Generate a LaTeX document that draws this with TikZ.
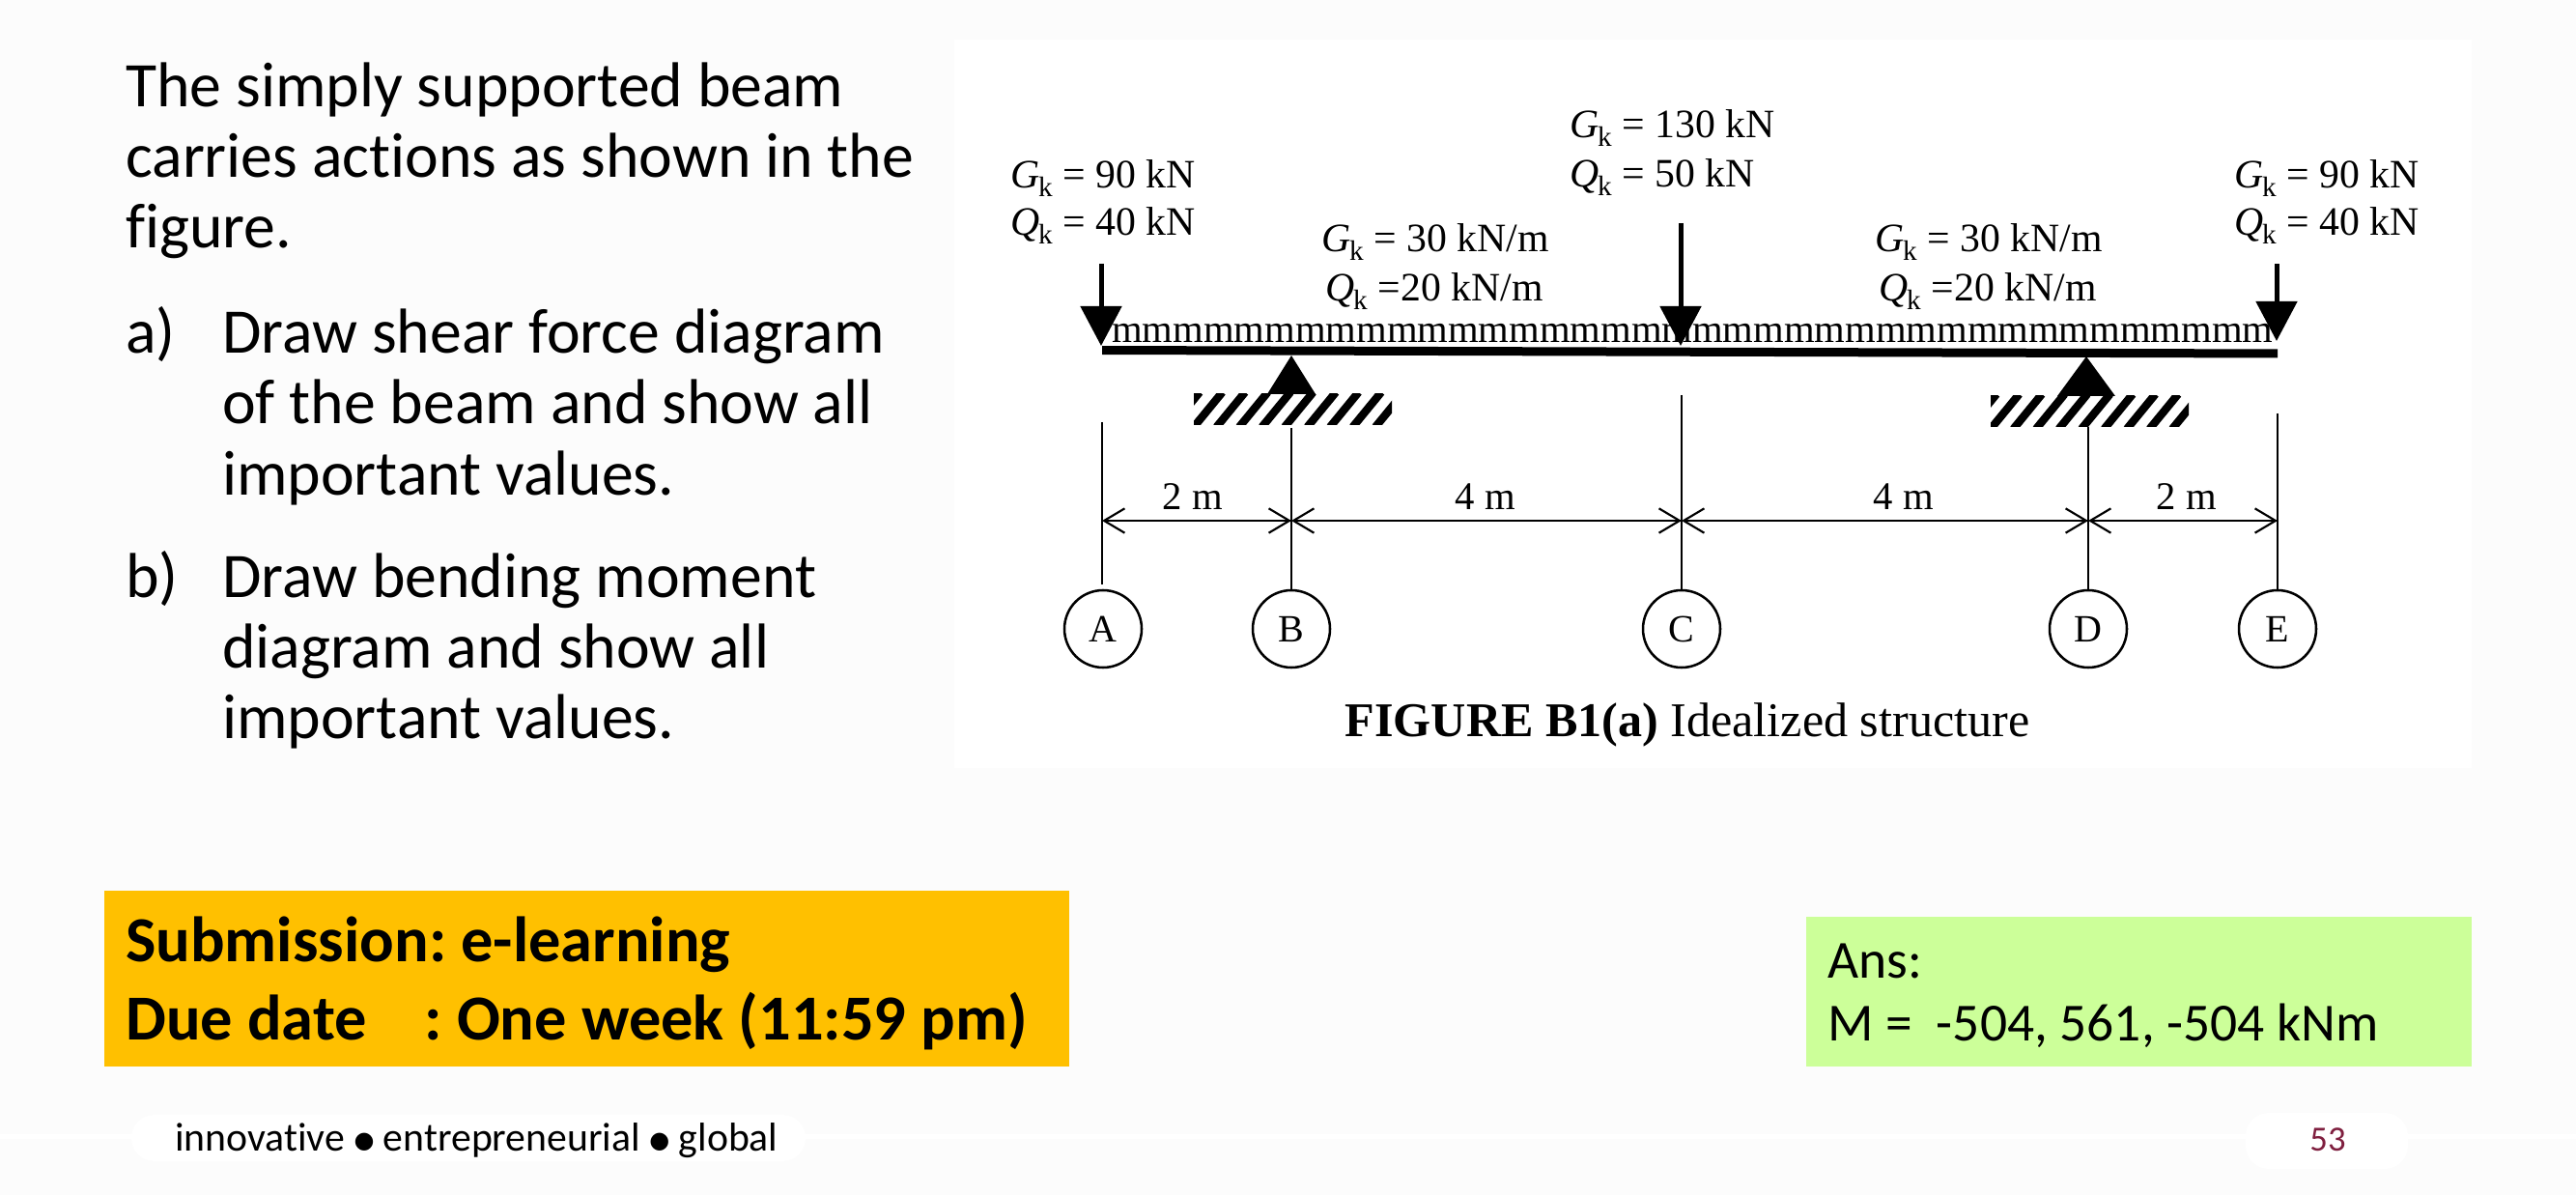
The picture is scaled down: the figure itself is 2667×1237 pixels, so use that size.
\documentclass[tikz,border=0pt]{standalone}
\usepackage{fontspec}
\setmainfont{Carlito}[Ligatures=NoCommon]
\newfontfamily\figfont{Liberation Serif}
\newfontfamily\dotfont{DejaVu Sans}
\usepackage{xcolor}
\usetikzlibrary{arrows.meta}
\definecolor{slidebg}{HTML}{FCFCFC}
\definecolor{duebox}{HTML}{FFC000}
\definecolor{ansbox}{HTML}{CCFF99}
\definecolor{pagenum}{HTML}{7F1F3F}
\newcommand{\Gk}{\textit{G}\kern-1pt\textsubscript{k}}
\newcommand{\Qk}{\textit{Q}\kern-1pt\textsubscript{k}}
\newcommand{\udlrun}{mmmmmmmmmmmmmmmmmmm}
\newcommand{\tagdot}{\raisebox{1.8pt}{\dotfont\fontsize{18}{20}\selectfont ●}}
\newcommand{\hatchblock}[2]{
	\begin{scope}
		\clip (#1,#2) rectangle ++(205,32);
		\foreach \k in {-2,...,9}
			\draw[line width=6.2pt] (#1+\k*23.5,#2+34) -- ++(29.5,-36);
	\end{scope}
}
\tikzset{
	slidetxt/.style={anchor=base west,inner sep=0pt,font=\fontsize{49.3}{54}\selectfont},
	boxtxt/.style={anchor=base west,inner sep=0pt,font=\fontsize{41.6}{48}\selectfont},
	loadtxt/.style={anchor=base west,inner sep=0pt,font=\figfont\fontsize{31.3}{37}\selectfont},
	dimtxt/.style={anchor=base,inner sep=0pt,font=\figfont\fontsize{30.5}{37}\selectfont},
	gridmark/.style={circle,draw,line width=1.9pt,fill=white,minimum size=60pt,inner sep=0pt,font=\figfont\fontsize{30}{36}\selectfont},
	loadarrow/.style={-{Triangle[length=30.75pt,width=31.5pt]},line width=3.75pt},
	gridline/.style={line width=1.9pt},
	dimline/.style={{Straight Barb[length=16pt,width=19pt,line width=1.6pt]}-{Straight Barb[length=16pt,width=19pt,line width=1.6pt]},line width=2.2pt}
}
\begin{document}
\frenchspacing
\begin{tikzpicture}[x=0.75pt,y=-0.75pt]
	\useasboundingbox (0,0) rectangle (2667,1237);
	\fill[slidebg] (0,0) rectangle (2667,1237);
	\fill[white] (988,41) rectangle (2559,795);
	% footer
	\fill[white] (0,1174) rectangle (2667,1179);
	\fill[white,rounded corners=18pt] (136,1154) rectangle (834,1202);
	\fill[white,rounded corners=18pt] (2325,1152) rectangle (2493,1210);
	\node[anchor=base west,inner sep=0pt,font=\fontsize{31.3}{36}\selectfont] (tagline) at (181,1191) {innovative \tagdot{} entrepreneurial \tagdot{} global};
	\node[anchor=base,inner sep=0pt,text=pagenum,font=\fontsize{27.5}{32}\selectfont] (pageno) at (2410,1191) {53};
	% question
	\foreach \y/\x/\t [count=\i] in {111/130/The simply supported beam,184/130/carries actions as shown in the,257/130/figure.,366/130/a),366/230/Draw shear force diagram,439/230/of the beam and show all,512/230/important values.,618/130/b),618/230/Draw bending moment,691/230/diagram and show all,764/230/important values.}
		\node[slidetxt] (q\i) at (\x,\y) {\t};
	% boxes
	\fill[duebox] (108,922) rectangle (1107,1104);
	\fill[ansbox] (1870,949) rectangle (2559,1104);
	\node[boxtxt,font=\bfseries\fontsize{49.8}{60}\selectfont] (sub1) at (130,995) {Submission: e-learning};
	\node[boxtxt,font=\bfseries\fontsize{49.8}{60}\selectfont] (sub2) at (130,1076) {Due date\hspace{0.68em} : One week (11:59 pm)};
	\node[boxtxt] (ans1) at (1892,1012) {Ans:};
	\node[boxtxt] (ans2) at (1892,1077) {M =\ \ -504, 561, -504 kNm};
	% loads
	\node[loadtxt] (lA1) at (1046,195) {\Gk{} = 90 kN};
	\node[loadtxt] (lA2) at (1046,244) {\Qk{} = 40 kN};
	\node[loadtxt] (lC1) at (1625,143) {\Gk{} = 130 kN};
	\node[loadtxt] (lC2) at (1625,194) {\Qk{} = 50 kN};
	\node[loadtxt] (lE1) at (2313,195) {\Gk{} = 90 kN};
	\node[loadtxt] (lE2) at (2313,244) {\Qk{} = 40 kN};
	\node[loadtxt] (lL1) at (1368,261) {\Gk{} = 30 kN/m};
	\node[loadtxt] (lL2) at (1372,312) {\Qk{} =20 kN/m};
	\node[loadtxt] (lR1) at (1941,261) {\Gk{} = 30 kN/m};
	\node[loadtxt] (lR2) at (1945,312) {\Qk{} =20 kN/m};
	\node[dimtxt,anchor=base west] (udl1) at (1151,355) {\udlrun};
	\node[dimtxt,anchor=base west] (udl2) at (1752,355) {\udlrun};
	% beam
	\coordinate (bA) at (1141,362.5);
	\coordinate (bE) at (2358,366);
	\draw[line width=6.75pt] (bA) -- (bE);
	\coordinate (aA) at (1140,273);
	\coordinate (tA) at (1140,358);
	\coordinate (aC) at (1740,231);
	\coordinate (tC) at (1740,358);
	\coordinate (aE) at (2357,273);
	\coordinate (tE) at (2357,353);
	\draw[loadarrow] (aA) -- (tA);
	\draw[loadarrow] (aC) -- (tC);
	\draw[loadarrow] (aE) -- (tE);
	% supports
	\hatchblock{1236}{408}
	\hatchblock{2061}{410}
	\coordinate (supB) at (1337,368);
	\coordinate (supD) at (2160,369);
	\fill (supB) -- ++(-25,40) -- ++(50,0) -- cycle;
	\fill (supD) -- ++(-30,41) -- ++(60,0) -- cycle;
	% grid
	\node[gridmark] (gA) at (1142,651) {A};
	\node[gridmark] (gB) at (1337,651) {B};
	\node[gridmark] (gC) at (1741,651) {C};
	\node[gridmark] (gD) at (2162,651) {D};
	\node[gridmark] (gE) at (2358,651) {E};
	\coordinate (lnA) at (1141,437);
	\coordinate (enA) at (1141,605);
	\coordinate (lnB) at (1337,443);
	\coordinate (lnC) at (1741,409);
	\coordinate (lnD) at (2162,442);
	\coordinate (lnE) at (2358,428);
	\draw[gridline] (lnA) -- (enA);
	\draw[gridline] (lnB) -- (gB);
	\draw[gridline] (lnC) -- (gC);
	\draw[gridline] (lnD) -- (gD);
	\draw[gridline] (lnE) -- (gE);
	\coordinate (dA) at (1141,539);
	\coordinate (dB) at (1337,539);
	\coordinate (dC) at (1741,539);
	\coordinate (dD) at (2162,539);
	\coordinate (dE) at (2358,539);
	\draw[dimline] (dA) -- (dB);
	\draw[dimline] (dB) -- (dC);
	\draw[dimline] (dC) -- (dD);
	\draw[dimline] (dD) -- (dE);
	\node[dimtxt] (m1) at (1235,527) {2 m};
	\node[dimtxt] (m2) at (1538,527) {4 m};
	\node[dimtxt] (m3) at (1971,527) {4 m};
	\node[dimtxt] (m4) at (2264,527) {2 m};
	\node[anchor=base,inner sep=0pt,font=\figfont\fontsize{37.6}{45}\selectfont] (caption) at (1747,762) {\textbf{FIGURE B1(a)} Idealized structure};
\end{tikzpicture}
\end{document}
